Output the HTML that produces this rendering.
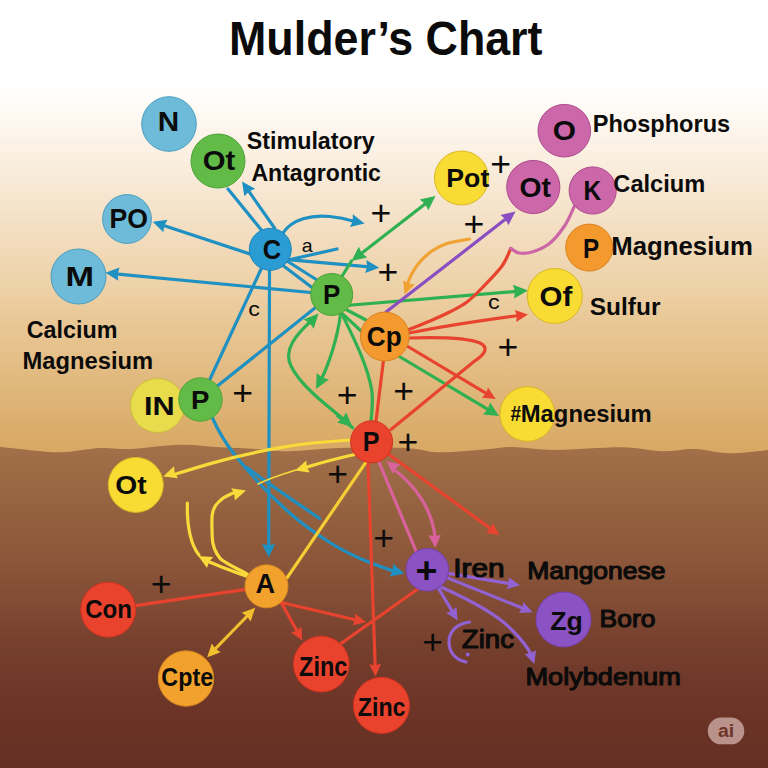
<!DOCTYPE html>
<html lang="en"><head><meta charset="utf-8"><title>Mulder's Chart</title>
<style>html,body{margin:0;padding:0;background:#fff;}body{width:768px;height:768px;overflow:hidden;}svg{display:block;}text{font-family:"Liberation Sans",sans-serif;}</style>
</head><body>
<svg width="768" height="768" viewBox="0 0 768 768">
<defs><linearGradient id="sky" x1="0" y1="0" x2="0" y2="1"><stop offset="0.0000" stop-color="#ffffff"/><stop offset="0.1848" stop-color="#ffffff"/><stop offset="0.2391" stop-color="#fefaf4"/><stop offset="0.3043" stop-color="#fcf3e8"/><stop offset="0.3913" stop-color="#f8ead7"/><stop offset="0.5000" stop-color="#f3dec1"/><stop offset="0.6087" stop-color="#eed3ab"/><stop offset="0.6957" stop-color="#e9c897"/><stop offset="0.8261" stop-color="#e1b97e"/><stop offset="0.9130" stop-color="#dcaf6f"/><stop offset="0.9783" stop-color="#d8a864"/><stop offset="1.0000" stop-color="#d8a864"/></linearGradient><linearGradient id="soil" x1="0" y1="0" x2="0" y2="1"><stop offset="0" stop-color="#a27049"/><stop offset="0.21" stop-color="#94613f"/><stop offset="0.36" stop-color="#8b5639"/><stop offset="0.48" stop-color="#824c35"/><stop offset="0.6" stop-color="#77412e"/><stop offset="0.73" stop-color="#6f3829"/><stop offset="0.85" stop-color="#6a3326"/><stop offset="1" stop-color="#652f23"/></linearGradient></defs>
<rect x="0" y="0" width="768" height="460" fill="url(#sky)"/>
<path d="M0,446.7 C3.3,447.1 10.0,448.1 20,449 C30.0,449.9 46.7,452.5 60,452.3 C73.3,452.1 88.3,448.6 100,448 C111.7,447.4 116.7,449.6 130,449 C143.3,448.4 165.0,445.0 180,444.7 C195.0,444.4 207.3,446.6 220,447.3 C232.7,448.0 244.5,448.3 256,449 C267.5,449.7 275.2,451.5 289,451.3 C302.8,451.1 319.5,448.6 339,448 C358.5,447.4 389.3,447.3 406,448 C422.7,448.7 425.2,452.1 439,452.3 C452.8,452.5 476.8,449.9 489,449 C501.2,448.1 501.0,446.8 512,447 C523.0,447.2 536.7,449.9 555,450 C573.3,450.1 604.2,447.1 622,447.3 C639.8,447.5 649.8,451.0 662,451.3 C674.2,451.6 683.8,448.7 695,449 C706.2,449.3 716.8,453.1 729,453.3 C741.2,453.5 761.5,450.6 768,450 L768,768 L0,768 Z" fill="url(#soil)"/>
<line x1="262.0" y1="258.0" x2="162.2" y2="224.9" stroke="#1f90c2" stroke-width="3.2" stroke-linecap="round"/>
<polygon points="152.7,221.7 167.6,219.7 164.2,225.5 163.4,232.2" fill="#1f90c2"/>
<line x1="331.7" y1="294.5" x2="115.5" y2="273.8" stroke="#1f90c2" stroke-width="3.2" stroke-linecap="round"/>
<polygon points="105.5,272.8 119.6,267.5 117.6,274.0 118.3,280.7" fill="#1f90c2"/>
<line x1="261.0" y1="229.5" x2="228.0" y2="189.0" stroke="#1f90c2" stroke-width="3.2" stroke-linecap="round"/>
<line x1="274.5" y1="228.0" x2="247.7" y2="189.7" stroke="#1f90c2" stroke-width="3.2" stroke-linecap="round"/>
<polygon points="242.0,181.5 255.1,188.8 249.0,191.5 244.3,196.3" fill="#1f90c2"/>
<path d="M282.7,233.3 C292,219 312,214.5 330,216.5 C340,217.5 348,219.5 354,221.3" fill="none" stroke="#1f90c2" stroke-width="3.2" stroke-linecap="round" stroke-linejoin="round"/>
<polygon points="364.6,223.5 350.0,227.0 352.7,220.9 352.8,214.2" fill="#1f90c2"/>
<line x1="288.0" y1="260.0" x2="337.0" y2="249.0" stroke="#1f90c2" stroke-width="3.2" stroke-linecap="round"/>
<line x1="288.0" y1="259.7" x2="369.2" y2="266.8" stroke="#1f90c2" stroke-width="3.2" stroke-linecap="round"/>
<polygon points="379.2,267.7 365.2,273.1 367.1,266.6 366.3,259.9" fill="#1f90c2"/>
<line x1="287.0" y1="261.0" x2="317.0" y2="280.0" stroke="#1f90c2" stroke-width="3.2" stroke-linecap="round"/>
<line x1="283.0" y1="265.5" x2="312.0" y2="287.5" stroke="#1f90c2" stroke-width="3.2" stroke-linecap="round"/>
<line x1="269.5" y1="268.0" x2="268.7" y2="547.4" stroke="#1f90c2" stroke-width="3.2" stroke-linecap="round"/>
<polygon points="268.7,557.4 262.1,543.9 268.7,545.3 275.3,543.9" fill="#1f90c2"/>
<line x1="270.3" y1="249.3" x2="200.5" y2="399.5" stroke="#1f90c2" stroke-width="3.2" stroke-linecap="round"/>
<line x1="331.7" y1="294.5" x2="200.5" y2="399.5" stroke="#1f90c2" stroke-width="3.2" stroke-linecap="round"/>
<path d="M212,417 C219,433 227,445 234.5,454.5 C246,469 268,494 292,515 C305,526 318,535 329,542 C345,552 358,558 370,562.5 C379,566 387,569 394,571" fill="none" stroke="#1f90c2" stroke-width="3.2" stroke-linecap="round" stroke-linejoin="round"/>
<polygon points="404.5,573.5 389.8,576.5 392.7,570.4 393.1,563.7" fill="#1f90c2"/>
<path d="M247,467.5 C268,484 296,502 319.5,518.5" fill="none" stroke="#1f90c2" stroke-width="3.2" stroke-linecap="round" stroke-linejoin="round"/>
<line x1="359.4" y1="254.9" x2="427.6" y2="202.1" stroke="#2fb052" stroke-width="3.2" stroke-linecap="round"/>
<polygon points="351.5,261.0 358.7,246.7 361.8,253.0 367.2,257.6" fill="#2fb052"/>
<polygon points="435.5,196.0 428.3,210.3 425.2,204.0 419.8,199.4" fill="#2fb052"/>
<line x1="341.5" y1="277.0" x2="351.5" y2="261.0" stroke="#2fb052" stroke-width="3.2" stroke-linecap="round"/>
<line x1="340.0" y1="306.0" x2="518.0" y2="291.3" stroke="#2fb052" stroke-width="3.2" stroke-linecap="round"/>
<polygon points="528.0,290.5 514.1,298.6 515.0,291.6 513.0,284.8" fill="#2fb052"/>
<line x1="347.0" y1="310.0" x2="366.0" y2="320.0" stroke="#2fb052" stroke-width="3.2" stroke-linecap="round"/>
<line x1="343.5" y1="314.7" x2="361.0" y2="331.0" stroke="#2fb052" stroke-width="3.2" stroke-linecap="round"/>
<line x1="398.5" y1="356.0" x2="490.4" y2="410.9" stroke="#2fb052" stroke-width="3.2" stroke-linecap="round"/>
<polygon points="499.0,416.0 483.0,414.5 487.8,409.3 490.1,402.6" fill="#2fb052"/>
<path d="M313,319.5 C296,334 283,350 291,366 C300,385 326,405 346,421" fill="none" stroke="#2fb052" stroke-width="3.2" stroke-linecap="round" stroke-linejoin="round"/>
<polygon points="318.5,313.5 313.7,328.8 309.6,323.1 303.6,319.5" fill="#2fb052"/>
<polygon points="352.5,427.0 337.0,422.6 342.7,418.4 346.1,412.3" fill="#2fb052"/>
<path d="M340.5,314 C338,335 330,362 320.5,381" fill="none" stroke="#2fb052" stroke-width="3.2" stroke-linecap="round" stroke-linejoin="round"/>
<polygon points="316.0,389.0 316.7,373.0 322.1,377.5 328.9,379.4" fill="#2fb052"/>
<path d="M342,314 C352,335 368,365 372,392 C373,403 372,412 371,421" fill="none" stroke="#2fb052" stroke-width="3.2" stroke-linecap="round" stroke-linejoin="round"/>
<line x1="337.7" y1="416.0" x2="352.7" y2="427.7" stroke="#2fb052" stroke-width="3.2" stroke-linecap="round"/>
<path d="M469.5,239.0 C465.8,239.8 453.2,241.5 447.0,243.5 C440.8,245.5 436.7,247.8 432.0,251.0 C427.3,254.2 422.6,258.8 419.0,263.0 C415.4,267.2 412.7,272.2 410.7,276.0 C408.7,279.8 407.6,284.3 407.0,286.0" fill="none" stroke="#f0a232" stroke-width="3.2" stroke-linecap="round" stroke-linejoin="round"/>
<polygon points="404.5,294.5 403.2,280.2 408.5,283.5 414.8,284.4" fill="#f0a232"/>
<line x1="386.0" y1="312.0" x2="507.6" y2="217.6" stroke="#8a4ec2" stroke-width="3.2" stroke-linecap="round"/>
<polygon points="515.5,211.5 508.4,225.2 505.5,219.2 500.5,214.9" fill="#8a4ec2"/>
<path d="M510.8,248.5 C509.3,251.4 506.8,259.4 502.0,266.0 C497.2,272.6 487.8,282.0 482.0,288.0 C476.2,294.0 472.2,298.1 467.0,302.0 C461.8,305.9 456.9,308.3 450.7,311.5 C444.5,314.7 436.9,318.0 430.0,321.0 C423.1,324.0 412.5,328.1 409.0,329.5" fill="none" stroke="#e8432e" stroke-width="3.2" stroke-linecap="round" stroke-linejoin="round"/>
<path d="M574.5,206.0 C572.8,209.3 568.7,219.8 564.5,226.0 C560.3,232.2 554.9,239.2 549.5,243.5 C544.1,247.8 537.1,250.4 532.0,252.0 C526.9,253.6 522.5,253.6 519.0,253.0 C515.5,252.4 512.2,249.2 510.8,248.5" fill="none" stroke="#cc66a6" stroke-width="3.2" stroke-linecap="round" stroke-linejoin="round"/>
<path d="M409,333 C450,325 485,320 519,315.5" fill="none" stroke="#e8432e" stroke-width="3.2" stroke-linecap="round" stroke-linejoin="round"/>
<polygon points="528.0,314.5 516.3,321.9 516.8,315.8 514.9,310.0" fill="#e8432e"/>
<path d="M409,338 C440,337 468,338 480,343 C488,347 487,353 474,361.5 C450,381 415,410 391,429.5" fill="none" stroke="#e8432e" stroke-width="3.2" stroke-linecap="round" stroke-linejoin="round"/>
<line x1="407.0" y1="346.0" x2="487.1" y2="393.9" stroke="#e8432e" stroke-width="3.2" stroke-linecap="round"/>
<polygon points="495.7,399.0 481.9,397.7 486.0,393.2 488.0,387.4" fill="#e8432e"/>
<line x1="383.5" y1="360.0" x2="376.0" y2="421.0" stroke="#e8432e" stroke-width="3.2" stroke-linecap="round"/>
<line x1="371.6" y1="441.8" x2="491.4" y2="529.3" stroke="#e8432e" stroke-width="3.2" stroke-linecap="round"/>
<polygon points="499.5,535.2 485.9,532.7 490.4,528.6 492.9,523.0" fill="#e8432e"/>
<line x1="368.0" y1="462.0" x2="375.2" y2="666.5" stroke="#e8432e" stroke-width="3.2" stroke-linecap="round"/>
<polygon points="375.5,676.5 369.1,664.2 375.1,665.3 381.1,663.8" fill="#e8432e"/>
<line x1="108.2" y1="609.7" x2="266.5" y2="586.3" stroke="#e8432e" stroke-width="3.2" stroke-linecap="round"/>
<line x1="281.5" y1="603.0" x2="297.4" y2="631.8" stroke="#e8432e" stroke-width="3.2" stroke-linecap="round"/>
<polygon points="302.3,640.5 291.0,632.5 296.8,630.7 301.5,626.7" fill="#e8432e"/>
<line x1="281.5" y1="602.5" x2="356.3" y2="620.0" stroke="#e8432e" stroke-width="3.2" stroke-linecap="round"/>
<polygon points="366.0,622.3 352.5,625.3 355.0,619.7 355.2,613.6" fill="#e8432e"/>
<line x1="418.5" y1="588.5" x2="341.0" y2="643.5" stroke="#e8432e" stroke-width="3.2" stroke-linecap="round"/>
<line x1="379.0" y1="462.0" x2="416.0" y2="551.0" stroke="#d9629c" stroke-width="3.2" stroke-linecap="round"/>
<path d="M392,468 C414,484 432,508 435,537" fill="none" stroke="#d9629c" stroke-width="3.2" stroke-linecap="round" stroke-linejoin="round"/>
<polygon points="386.5,461.0 400.5,464.4 395.6,468.4 392.7,474.0" fill="#d9629c"/>
<polygon points="435.3,548.0 428.5,535.3 434.7,536.3 440.8,534.7" fill="#d9629c"/>
<path d="M351,440 C325,441.5 300,444 281.6,447.4 C255,452 232,457.5 213.9,462.6 C198,467 184,471.5 173.5,474.8" fill="none" stroke="#f8da3a" stroke-width="3.2" stroke-linecap="round" stroke-linejoin="round"/>
<polygon points="163.2,476.5 174.0,466.2 174.7,472.6 178.0,478.2" fill="#f8da3a"/>
<path d="M356,454.2 C338,458 320,463 305,467.6" fill="none" stroke="#f8da3a" stroke-width="3.2" stroke-linecap="round" stroke-linejoin="round"/>
<polygon points="295.1,470.4 306.3,460.5 306.8,467.0 309.8,472.6" fill="#f8da3a"/>
<path d="M296,470 C283,474 270,478 258,484" fill="none" stroke="#f8da3a" stroke-width="1.6" stroke-linecap="round" stroke-linejoin="round"/>
<path d="M247.7,574.3 C236,568 227,564 220.6,559 C214,551 212,543 212.2,535.4 C212,528 211.5,521 212.2,515 C213,509 215,505 219,501.6 C222.5,498 226,496 231,494 C233,493 235,492.7 236.5,492.2" fill="none" stroke="#f8da3a" stroke-width="3.2" stroke-linecap="round" stroke-linejoin="round"/>
<polygon points="246.0,490.5 234.8,500.4 234.3,493.9 231.3,488.3" fill="#f8da3a"/>
<path d="M187.4,503 C187,515 188,526 190.2,535.4 C192,543 195,550 199,555" fill="none" stroke="#f8da3a" stroke-width="3.2" stroke-linecap="round" stroke-linejoin="round"/>
<path d="M206,560.5 C217,565.5 232,571 246,576" fill="none" stroke="#f8da3a" stroke-width="3.2" stroke-linecap="round" stroke-linejoin="round"/>
<polygon points="198.3,556.0 213.2,557.0 208.9,561.9 207.0,568.1" fill="#f8da3a"/>
<line x1="287.0" y1="577.8" x2="365.8" y2="462.3" stroke="#f6cd34" stroke-width="3.2" stroke-linecap="round"/>
<line x1="248.2" y1="615.0" x2="214.2" y2="650.0" stroke="#f2bf2e" stroke-width="3.2" stroke-linecap="round"/>
<polygon points="255.2,607.8 250.6,621.4 247.0,616.2 241.7,612.8" fill="#f2bf2e"/>
<polygon points="207.2,657.2 211.8,643.6 215.4,648.8 220.7,652.2" fill="#f2bf2e"/>
<line x1="427.3" y1="569.8" x2="510.1" y2="583.7" stroke="#9262d2" stroke-width="3.2" stroke-linecap="round"/>
<polygon points="520.0,585.3 506.7,589.2 508.9,583.4 508.7,577.3" fill="#9262d2"/>
<line x1="427.3" y1="569.8" x2="523.4" y2="608.5" stroke="#9262d2" stroke-width="3.2" stroke-linecap="round"/>
<polygon points="532.7,612.2 518.9,613.1 522.3,608.0 523.3,602.0" fill="#9262d2"/>
<path d="M441,587 C470,600 498,615 512,630 C522,640 528,648 531,654.5" fill="none" stroke="#9262d2" stroke-width="3.2" stroke-linecap="round" stroke-linejoin="round"/>
<polygon points="534.3,664.0 524.6,654.1 530.7,653.3 536.0,650.2" fill="#9262d2"/>
<line x1="427.3" y1="569.8" x2="452.6" y2="611.9" stroke="#9262d2" stroke-width="3.2" stroke-linecap="round"/>
<polygon points="457.7,620.5 446.1,612.9 451.9,610.9 456.4,606.7" fill="#9262d2"/>
<path d="M469.5,622 C455,624 448.5,633 449,643 C449.5,653 456,660 466,662" fill="none" stroke="#9262d2" stroke-width="3.2" stroke-linecap="round" stroke-linejoin="round"/>
<circle cx="467.7" cy="654.5" r="2" fill="#9262d2"/>
<circle cx="169" cy="124" r="27.3" fill="#6dbbd8" stroke="#4a9ebf" stroke-width="1"/>
<text transform="translate(157.77,131.00) scale(1.0659,1)" font-size="27.83" font-weight="bold" fill="#0b0b0b">N</text>
<circle cx="218" cy="161" r="27" fill="#63bb47" stroke="#4aa236" stroke-width="1"/>
<text transform="translate(202.83,170.00) scale(1.0908,1)" font-size="26.81" font-weight="bold" fill="#0b0b0b">Ot</text>
<circle cx="127" cy="219" r="24.4" fill="#6dbbd8" stroke="#4a9ebf" stroke-width="1"/>
<text transform="translate(109.57,227.80) scale(0.9657,1)" font-size="27.54" font-weight="bold" fill="#0b0b0b">PO</text>
<circle cx="78.5" cy="276.5" r="27.5" fill="#6dbbd8" stroke="#4a9ebf" stroke-width="1"/>
<text transform="translate(65.47,285.70) scale(1.2451,1)" font-size="27.54" font-weight="bold" fill="#0b0b0b">M</text>
<circle cx="270.3" cy="249.3" r="21" fill="#2a9bd3" stroke="#1f86ba" stroke-width="1"/>
<text transform="translate(262.68,259.00) scale(0.9259,1)" font-size="27.54" font-weight="bold" fill="#0b0b0b">C</text>
<circle cx="331.7" cy="294.5" r="21" fill="#63bb47" stroke="#4aa236" stroke-width="1"/>
<text transform="translate(323.01,303.50) scale(0.9188,1)" font-size="28.26" font-weight="bold" fill="#0b0b0b">P</text>
<circle cx="384.8" cy="336.5" r="24.4" fill="#f3992d" stroke="#d98221" stroke-width="1"/>
<text transform="translate(366.75,346.00) scale(0.9353,1)" font-size="27.97" font-weight="bold" fill="#0b0b0b">Cp</text>
<circle cx="461.5" cy="178" r="27" fill="#f8dc34" stroke="#d9b822" stroke-width="1"/>
<text transform="translate(446.26,186.70) scale(1.0239,1)" font-size="26.09" font-weight="bold" fill="#0b0b0b">Pot</text>
<circle cx="533.3" cy="187" r="26.6" fill="#cc67a9" stroke="#ad4a8c" stroke-width="1"/>
<text transform="translate(519.57,197.00) scale(1.0278,1)" font-size="27.54" font-weight="bold" fill="#0b0b0b">Ot</text>
<circle cx="564.3" cy="130.7" r="26.3" fill="#cc67a9" stroke="#ad4a8c" stroke-width="1"/>
<text transform="translate(552.81,140.30) scale(1.0816,1)" font-size="27.54" font-weight="bold" fill="#0b0b0b">O</text>
<circle cx="592.7" cy="190.5" r="23.6" fill="#cc67a9" stroke="#ad4a8c" stroke-width="1"/>
<text transform="translate(583.41,199.70) scale(0.9039,1)" font-size="27.10" font-weight="bold" fill="#0b0b0b">K</text>
<circle cx="589.2" cy="247.6" r="23.5" fill="#f3992d" stroke="#d98221" stroke-width="1"/>
<text transform="translate(582.93,258.00) scale(0.8792,1)" font-size="27.54" font-weight="bold" fill="#0b0b0b">P</text>
<circle cx="554.8" cy="296" r="27.5" fill="#f8dc34" stroke="#d9b822" stroke-width="1"/>
<text transform="translate(539.52,306.00) scale(1.0709,1)" font-size="27.54" font-weight="bold" fill="#0b0b0b">Of</text>
<circle cx="527.3" cy="414" r="27.3" fill="#f8dc34" stroke="#d9b822" stroke-width="1"/>
<circle cx="157.5" cy="405.5" r="27" fill="#e9dc4c" stroke="#c8bc3a" stroke-width="1"/>
<text transform="translate(144.01,415.30) scale(1.1964,1)" font-size="25.65" font-weight="bold" fill="#0b0b0b">IN</text>
<circle cx="200.5" cy="399.5" r="21.7" fill="#63bb47" stroke="#4aa236" stroke-width="1"/>
<text transform="translate(190.91,408.70) scale(1.0737,1)" font-size="25.65" font-weight="bold" fill="#0b0b0b">P</text>
<circle cx="371.6" cy="441.8" r="21" fill="#e9422d" stroke="#cf3220" stroke-width="1"/>
<text transform="translate(362.67,451.00) scale(0.9111,1)" font-size="27.54" font-weight="bold" fill="#0b0b0b">P</text>
<circle cx="135.8" cy="484.9" r="27.5" fill="#f8dc34" stroke="#d9b822" stroke-width="1"/>
<text transform="translate(115.17,493.70) scale(1.0730,1)" font-size="26.38" font-weight="bold" fill="#0b0b0b">Ot</text>
<circle cx="266.5" cy="586.3" r="21.5" fill="#f2a22c" stroke="#d98a20" stroke-width="1"/>
<text transform="translate(255.52,593.40) scale(1.0077,1)" font-size="26.96" font-weight="bold" fill="#0b0b0b">A</text>
<circle cx="108.2" cy="609.7" r="27.5" fill="#e9422d" stroke="#cf3220" stroke-width="1"/>
<text transform="translate(85.24,617.60) scale(0.9225,1)" font-size="26.09" font-weight="bold" fill="#0b0b0b">Con</text>
<circle cx="186" cy="678.5" r="27.7" fill="#f2a22c" stroke="#d98a20" stroke-width="1"/>
<text transform="translate(161.37,686.30) scale(0.9139,1)" font-size="25.51" font-weight="bold" fill="#0b0b0b">Cpte</text>
<circle cx="321.3" cy="664.1" r="27.9" fill="#e9422d" stroke="#cf3220" stroke-width="1"/>
<text transform="translate(299.10,675.50) scale(0.8519,1)" font-size="27.54" font-weight="bold" fill="#0b0b0b">Zinc</text>
<circle cx="381.4" cy="705.4" r="28.1" fill="#e9422d" stroke="#cf3220" stroke-width="1"/>
<text transform="translate(357.80,715.50) scale(0.8751,1)" font-size="26.52" font-weight="bold" fill="#0b0b0b">Zinc</text>
<circle cx="427.3" cy="569.8" r="21.3" fill="#8b52c3" stroke="#7741ad" stroke-width="1"/>
<text x="415.50" y="582.92" font-size="37.62" font-weight="bold" fill="#0b0b0b">+</text>
<circle cx="563.5" cy="619.5" r="27.5" fill="#8b52c3" stroke="#7741ad" stroke-width="1"/>
<text transform="translate(550.20,630.30) scale(1.0055,1)" font-size="26.52" font-weight="bold" fill="#0b0b0b">Zg</text>
<text transform="translate(229.09,55.00) scale(0.9360,1)" font-size="47.83" font-weight="bold" fill="#0b0b0b">Mulder’s Chart</text>
<text transform="translate(246.70,148.80) scale(1.0045,1)" font-size="23.19" font-weight="bold" fill="#0b0b0b">Stimulatory</text>
<text transform="translate(251.42,180.70) scale(0.9960,1)" font-size="23.19" font-weight="bold" fill="#0b0b0b">Antagrontic</text>
<text transform="translate(592.77,132.30) scale(0.9793,1)" font-size="24.06" font-weight="bold" fill="#0b0b0b">Phosphorus</text>
<text transform="translate(613.36,192.30) scale(0.9818,1)" font-size="24.06" font-weight="bold" fill="#0b0b0b">Calcium</text>
<text transform="translate(611.33,254.70) scale(1.0272,1)" font-size="25.07" font-weight="bold" fill="#0b0b0b">Magnesium</text>
<text transform="translate(589.77,314.60) scale(1.0048,1)" font-size="24.35" font-weight="bold" fill="#0b0b0b">Sulfur</text>
<text transform="translate(26.77,337.70) scale(0.9639,1)" font-size="24.20" font-weight="bold" fill="#0b0b0b">Calcium</text>
<text transform="translate(22.45,369.30) scale(0.9825,1)" font-size="24.20" font-weight="bold" fill="#0b0b0b">Magnesium</text>
<text transform="translate(510.41,421.00) scale(0.8479,1)" font-size="22.46" font-weight="bold" fill="#0b0b0b">#</text>
<text transform="translate(520.75,422.00) scale(0.9848,1)" font-size="24.20" font-weight="bold" fill="#0b0b0b">Magnesium</text>
<text transform="translate(453.31,577.00) scale(1.1633,1)" font-size="25.65" font-weight="normal" fill="#0b0b0b" stroke="#0b0b0b" stroke-width="1.15" stroke-linejoin="round">Iren</text>
<text transform="translate(527.18,578.70) scale(1.0937,1)" font-size="24.20" font-weight="normal" fill="#0b0b0b" stroke="#0b0b0b" stroke-width="1.15" stroke-linejoin="round">Mangonese</text>
<text transform="translate(599.59,627.00) scale(1.0921,1)" font-size="24.20" font-weight="normal" fill="#0b0b0b" stroke="#0b0b0b" stroke-width="1.15" stroke-linejoin="round">Boro</text>
<text transform="translate(461.87,648.00) scale(1.0872,1)" font-size="25.36" font-weight="normal" fill="#0b0b0b" stroke="#0b0b0b" stroke-width="1.15" stroke-linejoin="round">Zinc</text>
<text transform="translate(525.53,685.30) scale(1.1213,1)" font-size="24.20" font-weight="normal" fill="#0b0b0b" stroke="#0b0b0b" stroke-width="1.15" stroke-linejoin="round">Molybdenum</text>
<text transform="translate(301.82,252.00) scale(1.0280,1)" font-size="19.07" font-weight="normal" fill="#0b0b0b">a</text>
<text transform="translate(248.25,316.00) scale(1.1737,1)" font-size="19.81" font-weight="normal" fill="#0b0b0b">c</text>
<text transform="translate(487.95,308.70) scale(1.1737,1)" font-size="19.81" font-weight="normal" fill="#0b0b0b">c</text>
<text x="370.57" y="224.95" font-size="35.67" font-weight="normal" fill="#0b0b0b">+</text>
<text x="377.57" y="283.95" font-size="35.67" font-weight="normal" fill="#0b0b0b">+</text>
<text x="490.27" y="176.25" font-size="35.67" font-weight="normal" fill="#0b0b0b">+</text>
<text x="463.57" y="235.65" font-size="35.67" font-weight="normal" fill="#0b0b0b">+</text>
<text x="497.57" y="359.45" font-size="35.67" font-weight="normal" fill="#0b0b0b">+</text>
<text x="232.27" y="404.65" font-size="35.67" font-weight="normal" fill="#0b0b0b">+</text>
<text x="336.87" y="407.45" font-size="35.67" font-weight="normal" fill="#0b0b0b">+</text>
<text x="393.27" y="402.95" font-size="35.67" font-weight="normal" fill="#0b0b0b">+</text>
<text x="397.57" y="453.95" font-size="35.67" font-weight="normal" fill="#0b0b0b">+</text>
<text x="327.27" y="486.25" font-size="35.67" font-weight="normal" fill="#0b0b0b">+</text>
<text x="373.27" y="549.65" font-size="35.67" font-weight="normal" fill="#0b0b0b">+</text>
<text x="422.27" y="654.25" font-size="35.67" font-weight="normal" fill="#0b0b0b">+</text>
<text x="150.87" y="595.65" font-size="35.67" font-weight="normal" fill="#0b0b0b">+</text>
<rect x="707.8" y="717.6" width="36.5" height="26.7" rx="13.3" ry="13.3" fill="#b9928b"/>
<text transform="translate(718.02,737.00) scale(1.0400,1)" font-size="18.70" font-weight="bold" fill="#6d3427">ai</text>
</svg></body></html>
